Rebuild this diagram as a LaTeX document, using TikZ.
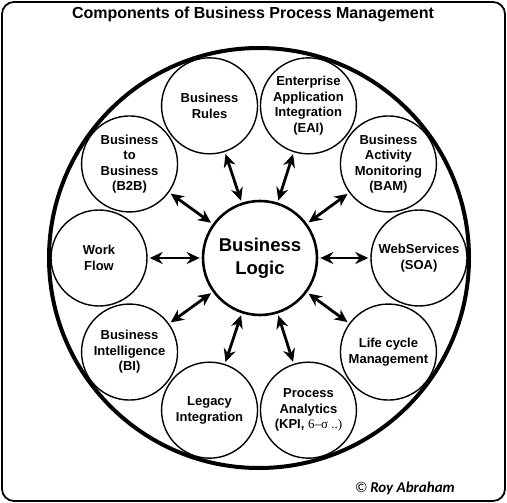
\documentclass[tikz,border=0pt]{standalone}
\usepackage{fontspec}
\setmainfont{Liberation Sans}
\newfontfamily\serifpart{Liberation Serif}
\newfontfamily\carlito{Carlito}
\usetikzlibrary{arrows.meta}
\begin{document}
\begin{tikzpicture}[x=1pt,y=-1pt,
  comp/.style={circle,draw,line width=1.4pt,minimum size=96pt,inner sep=0pt,align=center,
    font=\bfseries\fontsize{13}{15.5}\selectfont},
  biarrow/.style={line width=2.8pt,{Stealth[length=13pt,width=12pt]}-{Stealth[length=13pt,width=12pt]},shorten <=2pt,shorten >=2pt}]
\useasboundingbox (0,0) rectangle (507,503);
\draw[line width=1.8pt,rounded corners=12pt] (2,2) rectangle (505,501);
\node (title) at (253,14) {\bfseries\fontsize{16}{19}\selectfont Components of Business Process Management};
\draw[line width=4pt] (259,258) circle[radius=210];
\node[circle,draw,line width=2.6pt,minimum size=114pt,inner sep=0pt,align=center,
  font=\bfseries\fontsize{18.5}{23}\selectfont] (logic) at (260,258) {Business\\Logic};
\node[comp] (soa) at ({259+160*cos(0)},{258-160*sin(0)}) {WebServices\\(SOA)};
\node[comp] (bam) at ({259+160*cos(36)},{258-160*sin(36)}) {Business\\Activity\\Monitoring\\(BAM)};
\node[comp] (eai) at ({259+160*cos(72)},{258-160*sin(72)}) {Enterprise\\Application\\Integration\\(EAI)};
\node[comp] (rules) at ({259+160*cos(108)},{258-160*sin(108)}) {Business\\Rules};
\node[comp] (b2b) at ({259+160*cos(144)},{258-160*sin(144)}) {Business\\to\\Business\\(B2B)};
\node[comp] (wf) at ({259+160*cos(180)},{258-160*sin(180)}) {Work\\Flow};
\node[comp] (bi) at ({259+160*cos(216)},{258-160*sin(216)}) {Business\\Intelligence\\(BI)};
\node[comp] (legacy) at ({259+160*cos(252)},{258-160*sin(252)}) {Legacy\\Integration};
\node[comp] (pa) at ({259+160*cos(288)},{258-160*sin(288)}) {Process\\Analytics\\(KPI, {\serifpart\mdseries 6–σ ..)}};
\node[comp] (life) at ({259+160*cos(324)},{258-160*sin(324)}) {Life cycle\\Management};
\foreach \n in {soa,bam,eai,rules,b2b,wf,bi,legacy,pa,life}
  \draw[biarrow] (logic) -- (\n);
\node (copy) at (405,488) {\carlito\fontsize{15}{18}\selectfont ©\,\bfseries\itshape Roy Abraham};
\end{tikzpicture}
\end{document}
